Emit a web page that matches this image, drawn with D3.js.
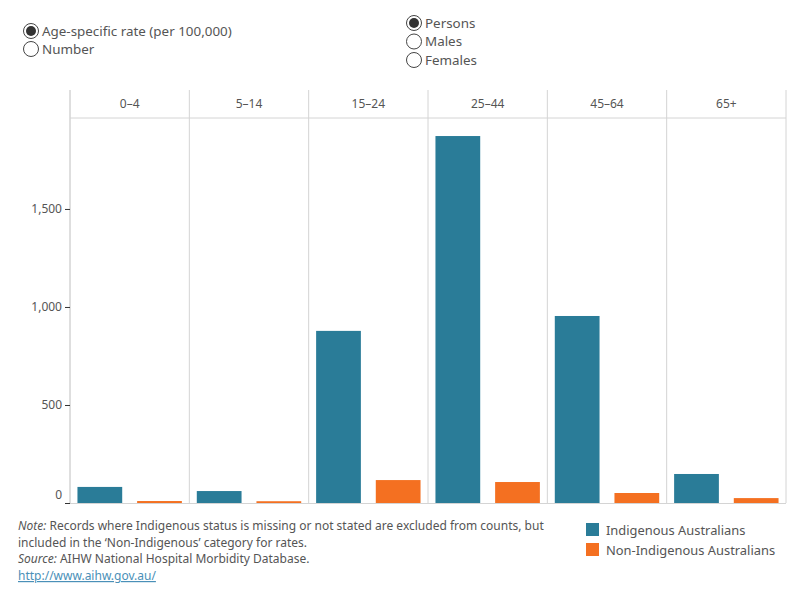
<!DOCTYPE html>
<html>
<head>
<meta charset="utf-8">
<script src="https://cdn.jsdelivr.net/npm/d3@7"></script>
<style>
  body { margin: 0; background: #fff; font-family: "Noto Sans", sans-serif; }
  svg text { fill: #555; }
</style>
</head>
<body>
<svg id="chart" width="800" height="600"></svg>
<script>
const ageGroups = ["0–4", "5–14", "15–24", "25–44", "45–64", "65+"];
const seriesNames = ["Indigenous Australians", "Non-Indigenous Australians"];
const indigenousRate = [82, 61, 878, 1872, 954, 148];
const nonIndigenousRate = [10, 9, 117, 107, 51, 25];
const yTicks = [0, 500, 1000, 1500];
const measureOptions = ["Age-specific rate (per 100,000)", "Number"];
const sexOptions = ["Persons", "Males", "Females"];

const COLORS = { "Indigenous Australians": "#2a7c98", "Non-Indigenous Australians": "#f47021" };
const GRID = "#d4d4d4";

const svg = d3.select("#chart");
const left = 70, right = 786, headTop = 90, headBottom = 118, bottom = 503;

const panel = d3.scaleBand().domain(ageGroups).range([left, right]);
const inner = d3.scaleBand().domain(seriesNames).range([0, panel.bandwidth()])
  .paddingInner(0.25).paddingOuter(0.125);
const y = d3.scaleLinear().domain([0, 1964]).range([bottom, headBottom]);

const data = ageGroups.map((g, i) => ({
  group: g,
  values: [
    { series: seriesNames[0], value: indigenousRate[i] },
    { series: seriesNames[1], value: nonIndigenousRate[i] },
  ],
}));

// panel grid
const grid = svg.append("g");
grid.selectAll("line.v")
  .data(ageGroups.map((g) => panel(g)).concat([right]))
  .join("line")
  .attr("x1", (d) => d).attr("x2", (d) => d)
  .attr("y1", headTop).attr("y2", bottom)
  .attr("stroke", GRID);
grid.append("line")
  .attr("x1", left).attr("x2", right)
  .attr("y1", headBottom).attr("y2", headBottom)
  .attr("stroke", GRID);

// headers
svg.append("g").selectAll("text")
  .data(ageGroups)
  .join("text")
  .attr("x", (d) => panel(d) + panel.bandwidth() / 2)
  .attr("y", 108)
  .attr("text-anchor", "middle")
  .attr("font-size", 12)
  .text((d) => d);

// bars
const groups = svg.append("g").selectAll("g")
  .data(data)
  .join("g")
  .attr("transform", (d) => `translate(${panel(d.group)},0)`);
groups.selectAll("rect")
  .data((d) => d.values)
  .join("rect")
  .attr("x", (d) => inner(d.series))
  .attr("width", inner.bandwidth())
  .attr("y", (d) => y(d.value))
  .attr("height", (d) => bottom - y(d.value))
  .attr("fill", (d) => COLORS[d.series]);

// baseline
svg.append("line")
  .attr("x1", left).attr("x2", right)
  .attr("y1", bottom + 0.5).attr("y2", bottom + 0.5)
  .attr("stroke", GRID);

// y axis
const yAxis = svg.append("g")
  .attr("transform", `translate(${left},0)`)
  .call(d3.axisLeft(y).tickValues(yTicks).tickFormat(d3.format(",")).tickSize(5).tickPadding(3));
yAxis.select(".domain").attr("stroke", GRID).attr("d", `M0,${headTop}V${bottom + 0.5}`);
yAxis.selectAll(".tick line").attr("stroke", "#333");
yAxis.selectAll(".tick text").attr("font-size", 12).attr("font-family", "Noto Sans").attr("fill", "#555");
yAxis.selectAll(".tick").filter((d) => d === 0).select("text").attr("dy", "-0.4em");

// radio controls
function radios(options, x, y0, step) {
  const g = svg.append("g");
  const item = g.selectAll("g").data(options).join("g")
    .attr("transform", (d, i) => `translate(${x},${y0 + i * step})`);
  item.append("circle").attr("r", 7.5).attr("fill", "#fff").attr("stroke", "#444").attr("stroke-width", 1);
  item.filter((d, i) => i === 0).append("circle").attr("r", 5).attr("fill", "#333");
  item.append("text").attr("x", 11).attr("dy", "0.35em").attr("font-size", 13.4).attr("fill", "#444").text((d) => d);
}
radios(measureOptions, 31, 31, 18);
radios(sexOptions, 414, 23, 18.5);

// legend
const legend = svg.append("g").attr("transform", "translate(586,523)");
const li = legend.selectAll("g").data(seriesNames).join("g")
  .attr("transform", (d, i) => `translate(0,${i * 20})`);
li.append("rect").attr("width", 13).attr("height", 13).attr("fill", (d) => COLORS[d]);
li.append("text").attr("x", 20).attr("y", 7).attr("dy", "0.35em").attr("font-size", 12.9).text((d) => d);

// footnote
const foot = svg.append("g").attr("font-size", 12);
const t1 = foot.append("text").attr("x", 18).attr("y", 530);
t1.append("tspan").attr("font-style", "italic").text("Note:");
t1.append("tspan").text(" Records where Indigenous status is missing or not stated are excluded from counts, but");
foot.append("text").attr("x", 18).attr("y", 547).text("included in the ‘Non-Indigenous’ category for rates.");
const t3 = foot.append("text").attr("x", 18).attr("y", 563);
t3.append("tspan").attr("font-style", "italic").text("Source:");
t3.append("tspan").text(" AIHW National Hospital Morbidity Database.");
foot.append("text").attr("x", 18).attr("y", 580).attr("text-decoration", "underline")
  .style("fill", "#4a90b8").text("http://www.aihw.gov.au/");
</script>
</body>
</html>
